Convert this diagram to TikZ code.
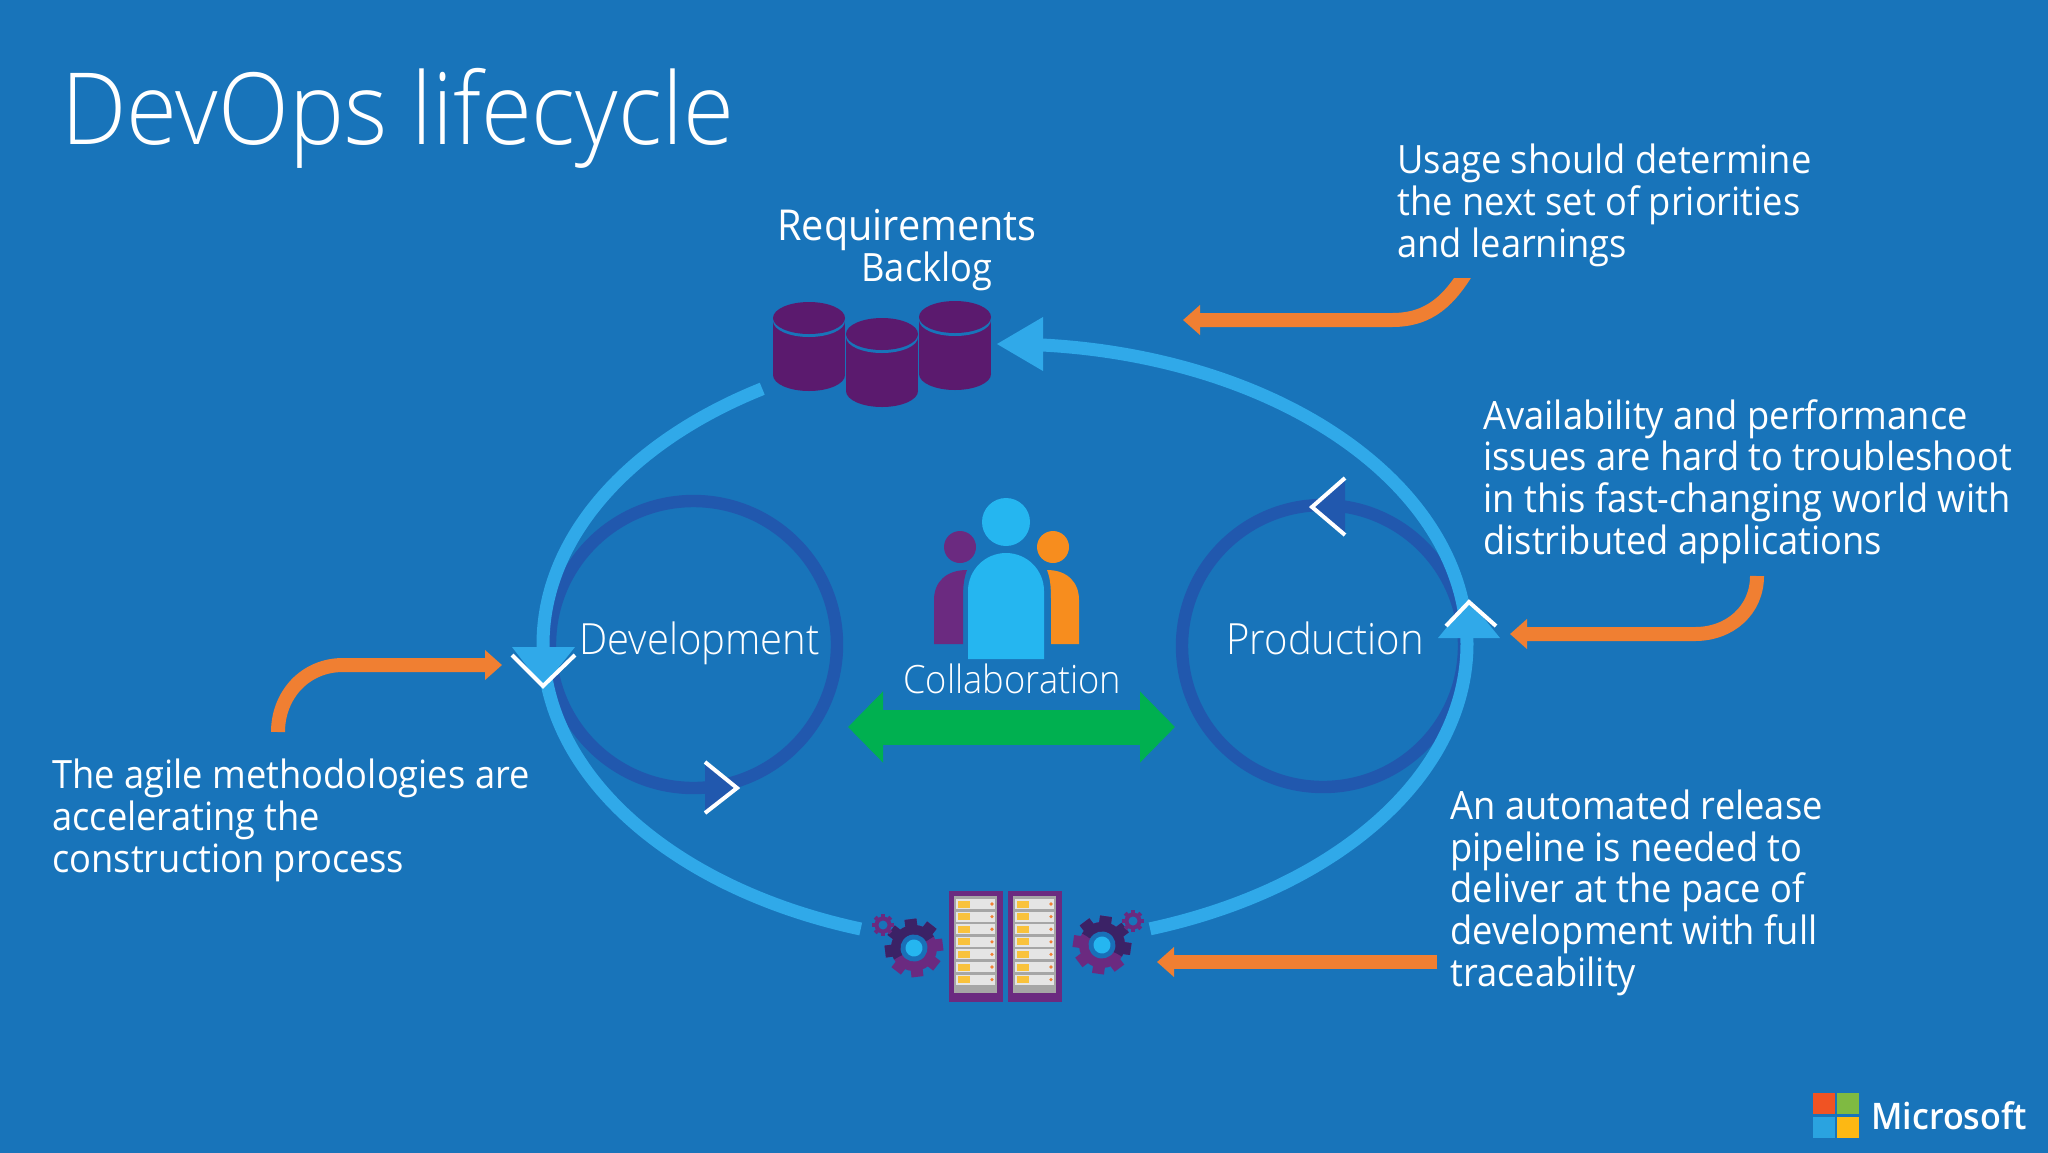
\documentclass[tikz,border=0pt]{standalone}
\usepackage{fontspec}
\setmainfont[FakeStretch=0.93]{Open Sans}
\newfontfamily\lightfont[FakeStretch=0.93]{Open Sans Light}
\newfontfamily\logofont[FakeStretch=0.93]{Open Sans Semibold}
\usetikzlibrary{arrows.meta}

\definecolor{bgblue}{HTML}{1874BA}
\definecolor{ringblue}{HTML}{30A9E9}
\definecolor{darkring}{HTML}{2158AE}
\definecolor{orangearrow}{HTML}{F07F32}
\definecolor{greenarrow}{HTML}{00B050}
\definecolor{cylpurple}{HTML}{5B1A6E}
\definecolor{gearpurple}{HTML}{6B2A80}
\definecolor{geardark}{HTML}{3B2266}
\definecolor{skyblue}{HTML}{25B6F0}
\definecolor{personorange}{HTML}{F78D1E}
\definecolor{slotyellow}{HTML}{F9C23C}
\definecolor{logored}{HTML}{F05323}
\definecolor{logogreen}{HTML}{7FBA42}
\definecolor{logoblue}{HTML}{2AA3E0}
\definecolor{logoyellow}{HTML}{FDB813}

\tikzset{
  body/.style={font=\fontsize{19.5}{20.8}\selectfont, text=white, inner sep=0pt, align=left, anchor=base west},
  thin label/.style={font=\lightfont\fontsize{21.5}{24}\selectfont, text=white, inner sep=0pt, anchor=base west},
  ring/.style={ringblue, line width=6.5pt},
  loopring/.style={darkring, line width=6.2pt},
  pointer/.style={orangearrow, line width=7pt, -{Triangle[length=8.5pt,width=14.5pt]}},
  chevron/.style={white, line width=2pt}
}

% one stretch of the large ellipse
\newcommand{\ringarc}[2]{\draw[ring] plot[domain=#1:#2, samples=70] ({1005+462*cos(\x)},{644-300*sin(\x)});}
% x left, y top
\newcommand{\drum}[2]{
  \fill[cylpurple] (#1,#2+16) rectangle (#1+72,#2+73);
  \fill[cylpurple] (#1+36,#2+73) ellipse [x radius=36, y radius=16];
  \fill[bgblue] (#1+36,#2+19) ellipse [x radius=36, y radius=16];
  \fill[cylpurple] (#1+36,#2+16) ellipse [x radius=36, y radius=16];
}
% x left
\newcommand{\rack}[1]{
  \fill[gearpurple] (#1,891) rectangle (#1+54,1002);
  \fill[black!35] (#1+5,896) rectangle (#1+48,993);
  \foreach \n in {0,...,6} {
    \fill[black!10] (#1+7,899+12.6*\n) rectangle (#1+46,909+12.6*\n);
    \fill[slotyellow] (#1+9,900.5+12.6*\n) rectangle (#1+21,907.5+12.6*\n);
    \fill[orangearrow] (#1+43,904+12.6*\n) circle [radius=1.8];
  }
}
% centre x, centre y, turn of the dark half
\newcommand{\biggear}[3]{
  \begin{scope}[shift={(#1,#2)}, rotate=#3]
    \fill[gearpurple] (0,0) circle [radius=23];
    \foreach \a in {0,45,...,315} \fill[gearpurple, rotate=\a+22] (-6,0) rectangle (6,29);
    \begin{scope}
      \clip (-40,-40) rectangle (40,0);
      \fill[geardark] (0,0) circle [radius=23];
      \foreach \a in {0,45,...,315} \fill[geardark, rotate=\a+22] (-6,0) rectangle (6,29);
    \end{scope}
    \fill[bgblue!85!darkring] (0,0) circle [radius=13.5];
    \fill[skyblue] (0,0) circle [radius=8.5];
  \end{scope}
}
\newcommand{\smallgear}[2]{
  \begin{scope}[shift={(#1,#2)}]
    \fill[gearpurple] (0,0) circle [radius=8.5];
    \foreach \a in {0,45,...,315} \fill[gearpurple, rotate=\a] (-2,0) rectangle (2,11);
    \fill[bgblue] (0,0) circle [radius=4.5];
  \end{scope}
}

\begin{document}
\begin{tikzpicture}[x=0.5pt, y=-0.5pt]
  \useasboundingbox (0,0) rectangle (2048,1152);
  \fill[bgblue] (-6,-6) rectangle (2054,1158);

  % Loops
  \draw[loopring] (693.5,644.5) circle [radius=143.5];
  \draw[loopring] (1323,646) circle [radius=141];
  \fill[darkring] (705,762) -- (737,788) -- (705,813) -- cycle;
  \fill[darkring] (1345,478) -- (1312,507) -- (1345,535) -- cycle;
  \draw[chevron] (705,762) -- (737,788) -- (705,813);
  \draw[chevron] (1345,478) -- (1312,507) -- (1345,535);

  % Big ring
  \ringarc{0}{85.3}
  \ringarc{121.7}{180}
  \ringarc{180}{251.8}
  \ringarc{288.3}{360}
  \fill[ringblue] (997,344) -- (1043,317) -- (1043,371) -- cycle;
  \fill[ringblue] (512,647) -- (575,647) -- (543,687) -- cycle;
  \fill[ringblue] (1438,638) -- (1500,638) -- (1469,600) -- cycle;
  \draw[chevron] (512,655) -- (543,686) -- (575,655);
  \draw[chevron] (1446,626) -- (1469,602) -- (1496,626);

  % Drums
  \drum{773}{302}
  \drum{846}{318}
  \drum{919}{301}

  % Build servers
  \biggear{914}{948}{30}
  \smallgear{883}{925}
  \rack{949}
  \rack{1008}
  \biggear{1102}{945}{-30}
  \smallgear{1133}{921}

  % People
  \fill[gearpurple] (960,547) circle [radius=16];
  \fill[gearpurple] (934,644) -- (934,600) .. controls (934,582) and (946,570) .. (967,570) .. controls (964,578) and (963,585) .. (963,600) -- (963,644) -- cycle;
  \fill[personorange] (1053,547) circle [radius=16];
  \fill[personorange] (1079,644) -- (1079,600) .. controls (1079,582) and (1067,570) .. (1047,570) .. controls (1050,578) and (1051,585) .. (1051,600) -- (1051,644) -- cycle;
  \fill[skyblue] (1006,522) circle [radius=24];
  \fill[skyblue] (968,659) -- (968,591) .. controls (968,570) and (985,553) .. (1006,553) .. controls (1027,553) and (1044,570) .. (1044,591) -- (1044,659) -- cycle;

  % Nodes
  \node (Title) [font=\lightfont\fontsize{49.8}{50}\selectfont, text=white, inner sep=0pt, anchor=base west] at (61,144) {DevOps lifecycle};
  \node (Req) [body, font=\fontsize{21.3}{22}\selectfont] at (777,240) {Requirements};
  \node (Back) [body] at (861,281) {Backlog};
  \node (Dev) [thin label] at (579,654) {Development};
  \node (Prod) [thin label] at (1226,654) {Production};
  \node (Collab) [thin label, font=\lightfont\fontsize{19.5}{22}\selectfont] at (903,693) {Collaboration};
  \node (Usage) [body] at (1397,257) {Usage should determine\\the next set of priorities\\and learnings};
  \node (Avail) [body] at (1483,554) {Availability and performance\\issues are hard to troubleshoot\\in this fast-changing world with\\distributed applications};
  \node (Release) [body] at (1450,986) {An automated release\\pipeline is needed to\\deliver at the pace of\\development with full\\traceability};
  \node (Agile) [body] at (52,872) {The agile methodologies are\\accelerating the\\construction process};
  \node (MS) [font=\logofont\fontsize{18.3}{19}\selectfont, text=white, inner sep=0pt, anchor=base west] at (1871,1129) {Microsoft};

  % Logo
  \fill[logored] (1813,1093) rectangle (1835,1114);
  \fill[logogreen] (1837,1093) rectangle (1859,1114);
  \fill[logoblue] (1813,1117) rectangle (1835,1138);
  \fill[logoyellow] (1837,1117) rectangle (1859,1138);

  % Arrows
  \coordinate (UsageFrom) at (1470,266);
  \coordinate (UsageTo) at (1183,320);
  \coordinate (AvailFrom) at (1757,576);
  \coordinate (AvailTo) at (1510,634);
  \coordinate (AgileFrom) at (278,732);
  \coordinate (AgileTo) at (502,665);
  \coordinate (ReleaseFrom) at (1437,962);
  \coordinate (ReleaseTo) at (1157,962);
  \coordinate (TeamL) at (848,727);
  \coordinate (TeamR) at (1175,727);
  \begin{scope}
    \clip (1100,278) rectangle (1500,350);
    \draw[pointer] (UsageFrom) .. controls (1450,300) and (1430,320) .. (1392,320) -- (UsageTo);
  \end{scope}
  \draw[pointer] (AvailFrom) .. controls (1757,610) and (1730,634) .. (1695,634) -- (AvailTo);
  \draw[pointer] (AgileFrom) .. controls (278,695) and (305,665) .. (343,665) -- (AgileTo);
  \draw[pointer] (ReleaseFrom) -- (ReleaseTo);
  \draw[greenarrow, line width=17.5pt, {Triangle[length=17.5pt,width=34.5pt]}-{Triangle[length=17.5pt,width=34.5pt]}] (TeamL) -- (TeamR);
\end{tikzpicture}
\end{document}
